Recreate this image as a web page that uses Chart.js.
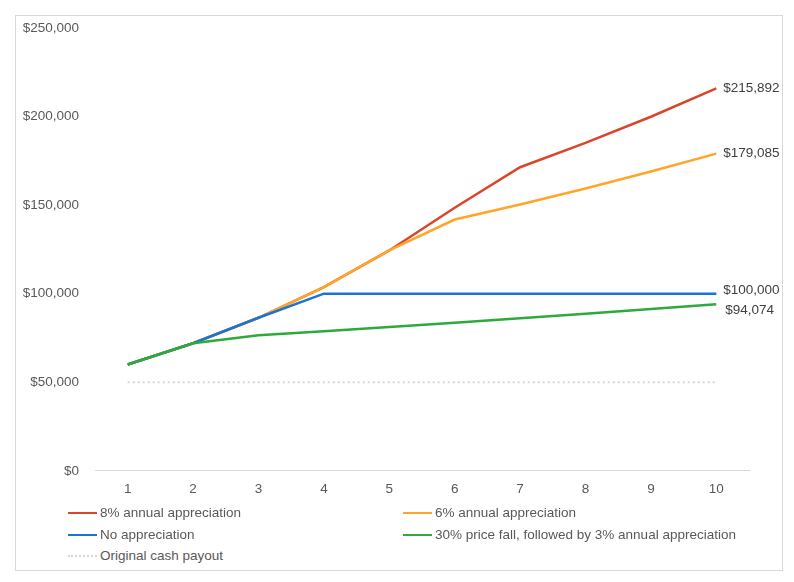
<!DOCTYPE html>
<html>
<head>
<meta charset="utf-8">
<script src="https://cdn.jsdelivr.net/npm/chart.js@4/dist/chart.umd.min.js"></script>
<style>
  body { margin: 0; background: #fff; font-family: "Liberation Sans", Arial, sans-serif; }
  #box { position: absolute; left: 15px; top: 15px; width: 766px; height: 554px; border: 1px solid #d9d9d9; }
  #wrap { position: absolute; left: 0; top: 0; width: 766px; height: 494px; }
  #legend { position: absolute; left: 0; top: 489px; width: 766px; color: #595959; font-size: 13.5px; }
  .item { position: absolute; height: 16px; line-height: 16px; white-space: nowrap; }
  .sw { display: inline-block; width: 29px; height: 0; vertical-align: middle; margin-right: 3px; }
</style>
</head>
<body>
<div id="box">
  <div id="wrap"><canvas id="myChart"></canvas></div>
  <div id="legend"></div>
</div>
<script>
const years = ["1", "2", "3", "4", "5", "6", "7", "8", "9", "10"];

const seriesNames = [
  "8% annual appreciation",
  "6% annual appreciation",
  "No appreciation",
  "30% price fall, followed by 3% annual appreciation",
  "Original cash payout"
];

const eightPct = [60000, 72000, 86400, 103680, 124416, 148500, 171400, 185100, 199900, 215892];
const sixPct = [60000, 72000, 86400, 103680, 124416, 141852, 150363, 159385, 168948, 179085];
const noAppreciation = [60000, 72000, 86400, 100000, 100000, 100000, 100000, 100000, 100000, 100000];
const priceFall = [60000, 72000, 76491, 78786, 81149, 83584, 86091, 88674, 91334, 94074];
const cashPayout = [50000, 50000, 50000, 50000, 50000, 50000, 50000, 50000, 50000, 50000];

const yTicks = [0, 50000, 100000, 150000, 200000, 250000];

const colors = ["#d9472b", "#ffa52a", "#1a74d2", "#2daa3c", "#d6d6d6"];

const money = (v) => "$" + Math.round(v).toLocaleString("en-US");

// end-of-line value labels
const endLabels = {
  id: "endLabels",
  afterDatasetsDraw(chart) {
    const ctx = chart.ctx;
    const nudge = [0, 0, -3, 6];
    ctx.save();
    ctx.font = "13.5px 'Liberation Sans', Arial, sans-serif";
    ctx.fillStyle = "#404040";
    ctx.textBaseline = "middle";
    for (let i = 0; i < 4; i++) {
      const meta = chart.getDatasetMeta(i);
      const pt = meta.data[meta.data.length - 1];
      const ds = chart.data.datasets[i].data;
      ctx.fillText(money(ds[ds.length - 1]), pt.x + 7 + (i == 3 ? 2 : 0), pt.y + nudge[i]);
    }
    ctx.restore();
  }
};

const makeSet = (i, data) => ({
  label: seriesNames[i],
  data: data,
  borderColor: colors[i],
  backgroundColor: colors[i],
  borderWidth: i == 4 ? 2 : 2.5,
  borderDash: i == 4 ? [2, 3] : [],
  pointRadius: 0,
  tension: 0,
  order: i == 4 ? 10 : 4 - i
});

const ctx = document.getElementById("myChart").getContext("2d");
const myChart = new Chart(ctx, {
  type: "line",
  data: {
    labels: years,
    datasets: [
      makeSet(0, eightPct),
      makeSet(1, sixPct),
      makeSet(2, noAppreciation),
      makeSet(3, priceFall),
      makeSet(4, cashPayout)
    ]
  },
  options: {
    responsive: true,
    maintainAspectRatio: false,
    animation: false,
    layout: { padding: { top: 12, right: 33, bottom: 3, left: 0 } },
    plugins: { legend: { display: false }, tooltip: { enabled: false } },
    scales: {
      x: {
        offset: true,
        grid: { display: false, drawTicks: false },
        border: { display: true, color: "#d9d9d9", width: 1 },
        ticks: { color: "#595959", font: { size: 13.5, family: "'Liberation Sans', Arial, sans-serif" }, padding: 10 }
      },
      y: {
        min: 0,
        max: 250000,
        afterFit: (scale) => {
          scale.width = 79;
          scale.paddingTop = 0;
          scale.paddingBottom = 0;
        },
        afterBuildTicks: (scale) => { scale.ticks = yTicks.map(v => ({ value: v })); },
        grid: { display: false, drawTicks: false },
        border: { display: false },
        ticks: {
          color: "#595959",
          font: { size: 13.5, family: "'Liberation Sans', Arial, sans-serif" },
          padding: 16,
          callback: (v) => money(v)
        }
      }
    }
  },
  plugins: [endLabels]
});

// two-column legend built from the chart datasets
const legend = document.getElementById("legend");
const spots = [[52, 0], [387, 0], [52, 21.5], [387, 21.5], [52, 43]];
myChart.data.datasets.forEach((ds, i) => {
  const el = document.createElement("div");
  el.className = "item";
  el.style.left = spots[i][0] + "px";
  el.style.top = spots[i][1] + "px";
  const sw = document.createElement("span");
  sw.className = "sw";
  sw.style.borderTop = (i == 4 ? "2px dotted " : "2.5px solid ") + ds.borderColor;
  el.appendChild(sw);
  el.appendChild(document.createTextNode(ds.label));
  legend.appendChild(el);
});
</script>
</body>
</html>
